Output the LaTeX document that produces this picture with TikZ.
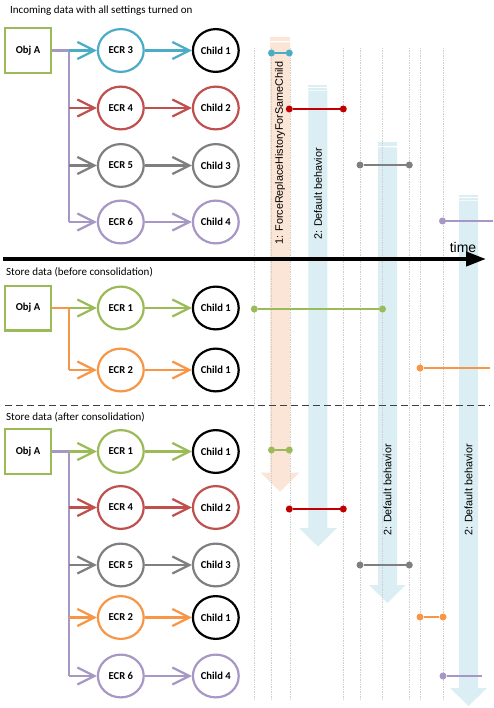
\documentclass[tikz,border=0pt]{standalone}
\usepackage{fontspec}
\setmainfont{Carlito}
\newfontfamily\arialfont{Liberation Sans}
\usepackage{tikz}
\usepackage{xcolor}
\usetikzlibrary{arrows.meta,shapes.geometric}

\definecolor{ecrblue}{HTML}{4BACC6}
\definecolor{ecrred}{HTML}{C0504D}
\definecolor{ecrgray}{HTML}{7F7F7F}
\definecolor{ecrpurple}{HTML}{A797C5}
\definecolor{ecrgreen}{HTML}{9BBB59}
\definecolor{ecrorange}{HTML}{F79646}
\definecolor{darkred}{HTML}{C00000}
\definecolor{bandblue}{HTML}{DAEEF3}
\definecolor{bandorange}{HTML}{FBE5D6}
\definecolor{gridgray}{HTML}{CFCFCF}

\begin{document}
\begin{tikzpicture}[x=1pt, y=-1pt,
  objbox/.style={draw=ecrgreen, line width=2.2pt, minimum width=45.8pt, minimum height=44.8pt, inner sep=0pt, font=\bfseries\fontsize{10.6}{12}\selectfont},
  ecr/.style={ellipse, draw, line width=2.2pt, minimum width=45.8pt, minimum height=42.8pt, inner sep=0pt, font=\bfseries\fontsize{10.6}{12}\selectfont},
  title/.style={anchor=west, inner sep=0pt, font=\fontsize{11}{12}\selectfont},
  link/.style={line width=2.2pt},
  arrowlink/.style={line width=2.2pt, -{Straight Barb[length=17pt,width=17pt]}},
  tdot/.style={circle, inner sep=0pt, minimum size=7pt},
  seg/.style={line width=2pt},
  gridline/.style={gridgray, densely dotted, line width=0.7pt},
  bandlabel/.style={rotate=90, inner sep=0pt, font=\arialfont\fontsize{10.8}{12}\selectfont}]
  \useasboundingbox (0,0) rectangle (493,708);

  % bands
  \fill[bandorange] (270,36.7) rectangle (290,38.7);
  \fill[bandorange] (270,39.5) rectangle (290,41.5);
  \fill[bandorange] (270,42.3) -- (290,42.3) -- (290,472.7) -- (299.3,472.7) -- (280,491.7) -- (260.7,472.7) -- (270,472.7) -- cycle;
  \fill[bandblue] (308.3,85) rectangle (327.3,87);
  \fill[bandblue] (308.3,87.8) rectangle (327.3,89.8);
  \fill[bandblue] (308.3,90.6) -- (327.3,90.6) -- (327.3,528) -- (337,528) -- (318,546.7) -- (299,528) -- (308.3,528) -- cycle;
  \fill[bandblue] (378,141.7) rectangle (397,143.7);
  \fill[bandblue] (378,144.5) rectangle (397,146.5);
  \fill[bandblue] (378,147.3) -- (397,147.3) -- (397,585) -- (405.7,585) -- (387.5,603) -- (369,585) -- (378,585) -- cycle;
  \fill[bandblue] (459,195) rectangle (478,197);
  \fill[bandblue] (459,197.8) rectangle (478,199.8);
  \fill[bandblue] (459,200.6) -- (478,200.6) -- (478,688) -- (487,688) -- (468.5,706) -- (450,688) -- (459,688) -- cycle;

  \draw[gridline] (254,48) -- (254,700);
  \draw[gridline] (271,48) -- (271,700);
  \draw[gridline] (290,48) -- (290,700);
  \draw[gridline] (343,48) -- (343,700);
  \draw[gridline] (360,48) -- (360,700);
  \draw[gridline] (382,48) -- (382,700);
  \draw[gridline] (409,48) -- (409,700);
  \draw[gridline] (420,48) -- (420,700);
  \draw[gridline] (443,48) -- (443,700);

  \node[bandlabel] (force_label) at (280,153) {1: ForceReplaceHistoryForSameChild};
  \node[bandlabel] (default_a) at (318,194) {2: Default behavior};
  \node[bandlabel] (default_b) at (387.5,490) {2: Default behavior};
  \node[bandlabel] (default_c) at (468.5,490) {2: Default behavior};

  % incoming data
  \node[title] (in_title) at (10,11) {Incoming data with all settings turned on};
  \node[objbox] (in_obj) at (28,50.5) {Obj A};
  \node[ecr, ecrblue] (in_ecr3) at (120.8,50.5) {\color{black}ECR 3};
  \node[ecr, ecrred] (in_ecr4) at (120.8,108) {\color{black}ECR 4};
  \node[ecr, ecrgray] (in_ecr5) at (120.8,165.5) {\color{black}ECR 5};
  \node[ecr, ecrpurple] (in_ecr6) at (120.8,222) {\color{black}ECR 6};
  \node[ecr, black] (in_child1) at (215.8,50.5) {Child 1};
  \node[ecr, ecrred] (in_child2) at (215.8,108) {\color{black}Child 2};
  \node[ecr, ecrgray] (in_child3) at (215.8,165.5) {\color{black}Child 3};
  \node[ecr, ecrpurple] (in_child4) at (215.8,222) {\color{black}Child 4};
  \coordinate (in_fork1) at (69,50.5);
  \coordinate (in_fork2) at (69,108);
  \coordinate (in_fork3) at (69,165.5);
  \coordinate (in_fork4) at (69,222);

  \draw[link, ecrpurple] (in_obj) -- (in_fork1) -- (in_fork4);
  \draw[arrowlink, ecrblue] (in_fork1) -- (in_ecr3);
  \draw[arrowlink, ecrred] (in_fork2) -- (in_ecr4);
  \draw[arrowlink, ecrgray] (in_fork3) -- (in_ecr5);
  \draw[arrowlink, ecrpurple] (in_fork4) -- (in_ecr6);
  \draw[arrowlink, ecrblue] (in_ecr3) -- (in_child1);
  \draw[arrowlink, ecrred] (in_ecr4) -- (in_child2);
  \draw[arrowlink, ecrgray] (in_ecr5) -- (in_child3);
  \draw[arrowlink, ecrpurple] (in_ecr6) -- (in_child4);

  \node[tdot, fill=ecrblue] (in_t1a) at (271.5,53) {};
  \node[tdot, fill=ecrblue] (in_t1b) at (289.3,53) {};
  \node[tdot, fill=darkred] (in_t2a) at (289.3,109) {};
  \node[tdot, fill=darkred] (in_t2b) at (343.3,109) {};
  \node[tdot, fill=ecrgray] (in_t3a) at (360,165) {};
  \node[tdot, fill=ecrgray] (in_t3b) at (409.3,165) {};
  \node[tdot, fill=ecrpurple] (in_t4a) at (442.5,221) {};
  \coordinate (in_t4b) at (493,221);
  \draw[seg, ecrblue] (in_t1a) -- (in_t1b);
  \draw[seg, darkred] (in_t2a) -- (in_t2b);
  \draw[seg, ecrgray] (in_t3a) -- (in_t3b);
  \draw[seg, ecrpurple] (in_t4a) -- (in_t4b);

  % time axis
  \coordinate (time_start) at (3,259);
  \coordinate (time_end) at (486,259);
  \draw[line width=4pt, -{Triangle[length=20pt,width=14pt]}] (time_start) -- (time_end);
  \node[font=\arialfont\fontsize{14}{16}\selectfont, inner sep=0pt] (time_label) at (463,247) {time};

  % before consolidation
  \node[title] (pre_title) at (6,272) {Store data (before consolidation)};
  \node[objbox] (pre_obj) at (28,308) {Obj A};
  \node[ecr, ecrgreen] (pre_ecr1) at (120.8,308) {\color{black}ECR 1};
  \node[ecr, ecrorange] (pre_ecr2) at (120.8,370) {\color{black}ECR 2};
  \node[ecr, black] (pre_child1) at (215.8,308) {Child 1};
  \node[ecr, black] (pre_child2) at (215.8,370) {Child 1};
  \coordinate (pre_fork1) at (69,308);
  \coordinate (pre_fork2) at (69,370);

  \draw[link, ecrorange] (pre_obj) -- (pre_fork1) -- (pre_fork2);
  \draw[arrowlink, ecrgreen] (pre_fork1) -- (pre_ecr1);
  \draw[arrowlink, ecrorange] (pre_fork2) -- (pre_ecr2);
  \draw[arrowlink, ecrgreen] (pre_ecr1) -- (pre_child1);
  \draw[arrowlink, ecrorange] (pre_ecr2) -- (pre_child2);

  \node[tdot, fill=ecrgreen] (pre_t1a) at (254.3,309) {};
  \node[tdot, fill=ecrgreen] (pre_t1b) at (382.5,309) {};
  \node[tdot, fill=ecrorange] (pre_t2a) at (420,368) {};
  \coordinate (pre_t2b) at (490,368);
  \draw[seg, ecrgreen] (pre_t1a) -- (pre_t1b);
  \draw[seg, ecrorange] (pre_t2a) -- (pre_t2b);

  \coordinate (sep_start) at (5,405.7);
  \coordinate (sep_end) at (490,405.7);
  \draw[black!75, line width=1.1pt, dash pattern=on 7pt off 4pt] (sep_start) -- (sep_end);

  % after consolidation
  \node[title] (post_title) at (6,417) {Store data (after consolidation)};
  \node[objbox] (post_obj) at (28,451.5) {Obj A};
  \node[ecr, ecrgreen] (post_ecr1) at (120.8,451.5) {\color{black}ECR 1};
  \node[ecr, ecrred] (post_ecr4) at (120.8,507.5) {\color{black}ECR 4};
  \node[ecr, ecrgray] (post_ecr5) at (120.8,565) {\color{black}ECR 5};
  \node[ecr, ecrorange] (post_ecr2) at (120.8,617.5) {\color{black}ECR 2};
  \node[ecr, ecrpurple] (post_ecr6) at (120.8,676) {\color{black}ECR 6};
  \node[ecr, black] (post_child1) at (215.8,451.5) {Child 1};
  \node[ecr, ecrred] (post_child2) at (215.8,507.5) {\color{black}Child 2};
  \node[ecr, ecrgray] (post_child3) at (215.8,565) {\color{black}Child 3};
  \node[ecr, black] (post_child1b) at (215.8,617.5) {Child 1};
  \node[ecr, ecrpurple] (post_child4) at (215.8,676) {\color{black}Child 4};
  \coordinate (post_fork1) at (69,451.5);
  \coordinate (post_fork2) at (69,507.5);
  \coordinate (post_fork3) at (69,565);
  \coordinate (post_fork4) at (69,617.5);
  \coordinate (post_fork5) at (69,676);

  \draw[link, ecrpurple] (post_obj) -- (post_fork1) -- (post_fork5);
  \draw[arrowlink, ecrgreen] (post_fork1) -- (post_ecr1);
  \draw[arrowlink, ecrred] (post_fork2) -- (post_ecr4);
  \draw[arrowlink, ecrgray] (post_fork3) -- (post_ecr5);
  \draw[arrowlink, ecrorange] (post_fork4) -- (post_ecr2);
  \draw[arrowlink, ecrpurple] (post_fork5) -- (post_ecr6);
  \draw[arrowlink, ecrgreen] (post_ecr1) -- (post_child1);
  \draw[arrowlink, ecrred] (post_ecr4) -- (post_child2);
  \draw[arrowlink, ecrgray] (post_ecr5) -- (post_child3);
  \draw[arrowlink, ecrorange] (post_ecr2) -- (post_child1b);
  \draw[arrowlink, ecrpurple] (post_ecr6) -- (post_child4);

  \node[tdot, fill=ecrgreen] (post_t1a) at (271.5,450) {};
  \node[tdot, fill=ecrgreen] (post_t1b) at (289.3,450) {};
  \node[tdot, fill=darkred] (post_t2a) at (289.3,509) {};
  \node[tdot, fill=darkred] (post_t2b) at (343.3,509) {};
  \node[tdot, fill=ecrgray] (post_t3a) at (360,565) {};
  \node[tdot, fill=ecrgray] (post_t3b) at (409.3,565) {};
  \node[tdot, fill=ecrorange] (post_t4a) at (420,617) {};
  \node[tdot, fill=ecrorange] (post_t4b) at (443,617) {};
  \node[tdot, fill=ecrpurple] (post_t5a) at (443,676) {};
  \coordinate (post_t5b) at (482,676);
  \draw[seg, ecrgreen] (post_t1a) -- (post_t1b);
  \draw[seg, darkred] (post_t2a) -- (post_t2b);
  \draw[seg, ecrgray] (post_t3a) -- (post_t3b);
  \draw[seg, ecrorange] (post_t4a) -- (post_t4b);
  \draw[seg, ecrpurple] (post_t5a) -- (post_t5b);
\end{tikzpicture}
\end{document}
